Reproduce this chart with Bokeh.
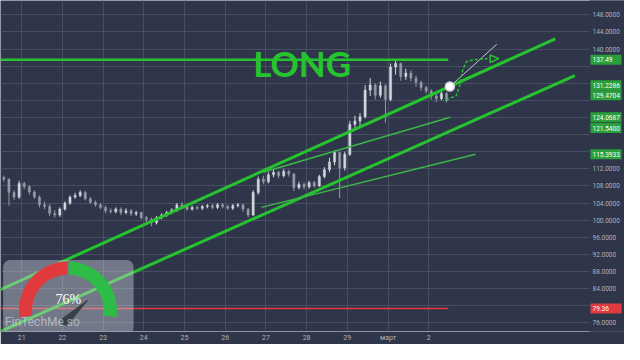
import numpy as np
from bokeh.plotting import figure
from bokeh.models import Range1d, FixedTicker, BoxAnnotation, ColumnDataSource
from bokeh.core.properties import value
from bokeh.embed import file_html
from bokeh.resources import INLINE

# ---------------- data ----------------
day_ticks = [0, 1, 2, 3, 4, 5, 6, 7, 8, 9, 10]
day_labels = ["21", "22", "23", "24", "25", "26", "27", "28", "29", "март", "2"]
price_ticks = list(range(76, 149, 4))
hidden_price_ticks = [80, 116, 120, 124, 128, 132, 136]

candle_start = -0.5
candle_step = 0.125          # 3-hour candles, in days
first_open = 110.0
close = [109.6, 106.5, 105.4, 108.6, 107.8, 106.6, 105.4, 103.6,
         103.2, 101.6, 101.2, 102.6, 104.0, 105.4, 105.8, 106.5,
         105.0, 104.2, 103.6, 103.0, 102.2, 102.0, 102.6, 101.8,
         102.2, 101.5, 101.8, 100.6, 100.2, 99.4, 100.6, 101.2,
         101.8, 102.4, 103.6, 103.2, 102.6, 103.0, 102.8, 103.2,
         103.4, 103.0, 103.6, 103.2, 102.8, 103.4, 103.6, 102.6,
         101.2, 106.5, 109.6, 109.0, 110.6, 111.2, 110.4, 111.4,
         110.8, 107.6, 108.4, 107.8, 108.8, 108.0, 110.2, 111.8,
         113.6, 115.8, 112.2, 115.4, 122.4, 123.2, 124.2, 130.4,
         131.6, 129.2, 131.4, 128.2, 135.8, 136.6, 133.6, 134.4,
         133.2, 132.2, 131.0, 130.2, 129.0, 128.4, 129.6, 128.0]
high = [110.4, 109.8, 107.0, 109.2, 109.0, 108.2, 107.0, 105.8,
        104.4, 103.8, 102.4, 103.0, 104.4, 105.8, 106.4, 107.0,
        106.8, 105.4, 104.6, 104.0, 103.4, 102.8, 103.0, 103.0,
        102.8, 102.6, 102.2, 102.0, 101.0, 100.6, 101.0, 101.6,
        102.2, 102.8, 104.0, 104.2, 103.6, 103.4, 103.4, 103.6,
        103.8, 103.8, 104.0, 104.0, 103.6, 103.8, 104.0, 103.8,
        102.8, 107.0, 110.2, 110.4, 111.2, 111.8, 111.6, 112.0,
        111.8, 111.0, 109.0, 108.8, 109.2, 109.2, 110.6, 112.4,
        114.6, 116.4, 116.0, 116.0, 123.2, 124.4, 125.0, 131.6,
        133.2, 132.0, 132.4, 131.8, 136.6, 137.5, 136.8, 135.4,
        135.0, 133.8, 132.6, 131.4, 130.6, 129.6, 130.2, 130.0]
low = [109.0, 103.4, 104.8, 105.0, 107.2, 106.0, 105.0, 103.0,
       102.6, 101.0, 100.6, 100.8, 102.2, 103.6, 105.0, 105.4,
       104.6, 103.8, 103.2, 102.6, 101.6, 101.6, 101.6, 101.2,
       101.4, 101.0, 101.0, 100.2, 99.6, 98.6, 99.0, 100.2,
       100.8, 101.4, 102.0, 102.8, 102.2, 102.2, 102.4, 102.4,
       102.8, 102.6, 102.6, 102.8, 102.4, 102.4, 103.0, 102.0,
       100.7, 101.0, 106.0, 108.4, 108.6, 110.0, 109.8, 110.0,
       110.2, 106.8, 107.2, 107.2, 107.4, 107.6, 107.8, 109.8,
       111.2, 112.8, 105.2, 111.6, 115.0, 121.6, 122.0, 123.8,
       129.0, 128.2, 128.6, 122.8, 127.8, 134.0, 132.6, 132.8,
       132.4, 131.2, 130.2, 129.6, 128.2, 127.6, 128.0, 127.5]

level_values = [137.49, 131.2286, 129.4704, 124.0687, 121.54, 115.3933]
level_texts = ["137.49", "131.2286", "129.4704", "124.0687", "121.5400", "115.3933"]
stop_value = 79.36
stop_text = "79.36"
level_line_end = 10.48

line_a_x = [-0.52, 13.11]
line_a_y = [83.8, 142.4]
line_b_x = [-0.52, 13.59]
line_b_y = [74.0, 133.8]
line_c_x = [5.93, 10.53]
line_c_y = [111.2, 124.0687]
line_d_x = [5.89, 11.15]
line_d_y = [103.0, 115.3933]

target_x = [10.52]
target_y = [131.2286]
proj_x = [10.50, 11.67]
proj_y = [131.06, 141.09]
path_x = [10.43, 10.67, 10.77, 10.84, 10.93, 11.12, 11.44]
path_y = [128.16, 129.05, 131.73, 135.3, 137.08, 137.52, 137.75]
arrow_x = [11.51, 11.72, 11.51, 11.51]
arrow_y = [138.6, 137.75, 136.85, 138.6]

signal_text = "LONG"
signal_x = [6.89]
signal_y = [136.85]

gauge_value = 0.76
gauge_text = "76%"
brand_text = "FinTechMe so"

# ---------------- styling / layout ----------------
BG = "#30364a"
GRID = "#474e62"
GREEN = "#25c42f"
GREEN2 = "#3cb54a"
RED = "#e0393e"
BOX_GREEN = "#2a9f3b"
AXIS_TXT = "#aeb2bb"

W, H = 624, 344
FRAME_H = 332
X0, X1 = -0.52, 14.81          # data x at the left and right edges of the canvas
Y0, Y1 = 74.0, 151.34
px_d = W / (X1 - X0)
px_p = FRAME_H / (Y1 - Y0)
PLOT_END = X0 + 589 / px_d     # where the chart area ends and the price scale begins

p = figure(width=W, height=H, x_range=Range1d(X0, X1), y_range=Range1d(Y0, Y1),
           output_backend="svg", toolbar_location=None, y_axis_location=None,
           background_fill_color=BG, border_fill_color=BG,
           min_border_left=0, min_border_top=0, min_border_right=0, min_border_bottom=12)
p.outline_line_color = None

ax = p.xaxis[0]
ax.ticker = FixedTicker(ticks=day_ticks)
ax.major_label_overrides = {t: l for t, l in zip(day_ticks, day_labels)}
ax.bounds = (X0, PLOT_END)
ax.major_tick_out = 0
ax.major_tick_in = 0
ax.minor_tick_out = 0
ax.minor_tick_in = 0
ax.major_label_text_color = AXIS_TXT
ax.major_label_text_font = "Roboto"
ax.major_label_text_font_size = "7px"
ax.major_label_standoff = 2
ax.axis_line_color = "#8d929c"
p.xgrid.grid_line_color = GRID
p.ygrid.ticker = FixedTicker(ticks=price_ticks)
p.ygrid.grid_line_color = GRID

# price-scale strip on the right (masks the grid there)
p.quad(left=[PLOT_END], right=[X1 + 1], bottom=[Y0 - 5], top=[Y1 + 5], fill_color=BG, line_color=None)
shown = [t for t in price_ticks if t not in hidden_price_ticks]
lab_x = PLOT_END + 3 / px_d
p.text([lab_x] * len(shown), shown, text=[f"{t:.4f}" for t in shown], text_font=value("Roboto"),
       text_font_size="6.5px", text_color=AXIS_TXT, text_align="left", text_baseline="middle")

# candles
n = len(close)
xs = [candle_start + candle_step * (i + 0.5) for i in range(n)]
opens = [first_open] + close[:-1]
colors = ["#d3d6dd" if c >= o else "#959aa5" for o, c in zip(opens, close)]
src = ColumnDataSource(dict(x=xs, h=high, l=low,
                            top=[max(o, c) for o, c in zip(opens, close)],
                            bottom=[min(o, c) for o, c in zip(opens, close)],
                            color=colors))
p.segment(x0="x", y0="l", x1="x", y1="h", line_color="color", line_width=1, source=src)
p.vbar(x="x", width=candle_step * 0.42, top="top", bottom="bottom",
       fill_color="color", line_color="color", line_width=0.5, source=src)

# horizontal levels
p.line([X0, level_line_end], [level_values[0]] * 2, line_color=GREEN, line_width=2.5)
p.line([X0, level_line_end], [stop_value] * 2, line_color=RED, line_width=1.5)

# trend lines
p.line(line_a_x, line_a_y, line_color=GREEN, line_width=3)
p.line(line_b_x, line_b_y, line_color=GREEN, line_width=3)
p.line(line_c_x, line_c_y, line_color=GREEN2, line_width=1.5)
p.line(line_d_x, line_d_y, line_color=GREEN2, line_width=1.5)

# projection
p.line(proj_x, proj_y, line_color="#c3c7cf", line_width=1)
p.line(path_x, path_y, line_color=GREEN, line_width=1.5, line_dash="3 2")
p.patch(arrow_x, arrow_y, fill_alpha=0, line_color=GREEN, line_width=1.5)
p.scatter(target_x, target_y, size=9, fill_color="white", line_color="#cfd3da", line_width=1.5)

# LONG
p.text(signal_x, signal_y, text=[signal_text], text_font=value("Lato"), text_font_style="bold",
       text_font_size="35px", text_color=GREEN, text_align="center", text_baseline="middle")

# value boxes on the price scale (pushed apart when they would overlap, as the scale does)
box_h = 10 / px_p
vals = list(level_values) + [stop_value]
texts = list(level_texts) + [stop_text]
cols = [BOX_GREEN] * len(level_values) + [RED]
order = sorted(range(len(vals)), key=lambda k: -vals[k])
ypos = {k: vals[k] for k in order}
for a, b in zip(order[:-1], order[1:]):
    if ypos[a] - ypos[b] < box_h:
        mid = (ypos[a] + ypos[b]) / 2
        ypos[a], ypos[b] = mid + box_h / 2, mid - box_h / 2
by = [ypos[k] for k in range(len(vals))]
bl = PLOT_END + 1 / px_d
br = PLOT_END + 32 / px_d
p.quad(left=[bl] * len(vals), right=[br] * len(vals),
       bottom=[v - box_h / 2 for v in by], top=[v + box_h / 2 for v in by],
       fill_color=cols, line_color=None)
p.text([lab_x] * len(vals), by, text=texts, text_font=value("Roboto"), text_font_size="6.5px",
       text_color="white", text_align="left", text_baseline="middle")

# gauge panel
p.add_layout(BoxAnnotation(left=-0.455, right=2.75, top=90.71, bottom=73.3,
                           fill_color="#d0d4db", fill_alpha=0.42, line_color=None, border_radius=7))
gcx, gcy = 1.136, 78.9
p.annular_wedge([gcx], [gcy], inner_radius=36, outer_radius=49,
                inner_radius_units="screen", outer_radius_units="screen",
                start_angle=np.deg2rad(91), end_angle=np.deg2rad(188),
                fill_color="#e0393e", line_color=None, level="overlay")
p.annular_wedge([gcx], [gcy], inner_radius=36, outer_radius=49,
                inner_radius_units="screen", outer_radius_units="screen",
                start_angle=np.deg2rad(-8), end_angle=np.deg2rad(89),
                fill_color="#2dbd47", line_color=None, level="overlay")

# needle built in screen offsets
pvx, pvy = 1.05, 76.2
ang = np.deg2rad(180 - gauge_value * 180)
pts = [(32, 0), (0, 4), (-3, 0), (0, -4)]
nx = [pvx + (a * np.cos(ang) - b * np.sin(ang)) / px_d for a, b in pts]
ny = [pvy + (a * np.sin(ang) + b * np.cos(ang)) / px_p for a, b in pts]
p.patch(nx, ny, fill_color="#3a3f4a", line_color="#3a3f4a", level="overlay")

p.text([1.148], [81.57], text=[gauge_text], text_font=value("Liberation Serif"),
       text_font_size="14px", text_color="white", text_align="center", text_baseline="middle",
       level="overlay")
p.text([-0.41], [76.22], text=[brand_text], text_font=value("Roboto"),
       text_font_size="12px", text_color="#dde0e6", text_alpha=0.6, text_align="left",
       text_baseline="middle", level="overlay")

open("out.html", "w").write(file_html(p, INLINE))
